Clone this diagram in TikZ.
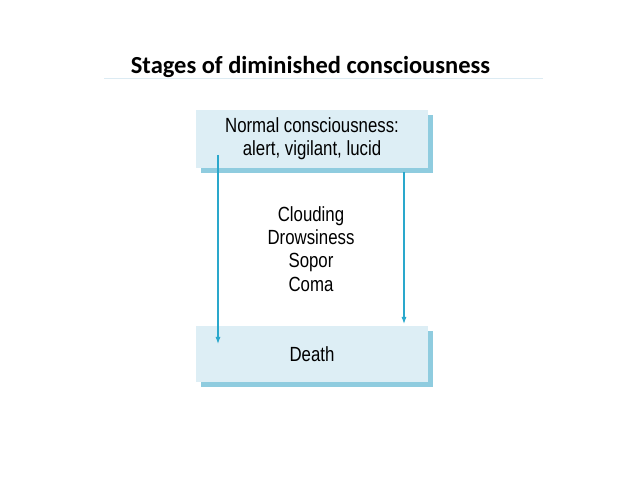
\documentclass[tikz,border=0pt]{standalone}
\usepackage{fontspec}
\setmainfont{Liberation Sans}
\newfontfamily\narrowfont[FakeStretch=0.82]{Liberation Sans}
\newfontfamily\titlefont{Carlito}
\usetikzlibrary{arrows.meta}
\definecolor{boxfill}{HTML}{DDEEF5}
\definecolor{boxshadow}{HTML}{8FCCDF}
\definecolor{arrowcol}{HTML}{2AA8CC}
\definecolor{rulecol}{HTML}{DCEBF3}
\tikzset{
  stagebox/.style={fill=boxfill, draw=none, minimum width=232pt, inner sep=0pt, align=center,
     font=\narrowfont\fontsize{20.5}{23}\selectfont},
  flowarrow/.style={draw=arrowcol, line width=1.1pt, -{Latex[length=7pt,width=5pt]}},
  plaintext/.style={align=center, font=\narrowfont\fontsize{20.5}{23.3}\selectfont}
}
\begin{document}
\begin{tikzpicture}[x=1pt,y=-1pt]
\useasboundingbox (0,0) rectangle (638,478);
% title
\node[font=\titlefont\bfseries\fontsize{24.5}{28}\selectfont] (title) at (310.5,67) {Stages of diminished consciousness};
\coordinate (ruleL) at (104,78.5);
\coordinate (ruleR) at (543,78.5);
\draw[rulecol, line width=1.5pt] (ruleL) -- (ruleR);
% top box
\fill[boxshadow] (201,115) rectangle (433,173);
\node[stagebox, minimum height=58pt] (normal) at (312,139) {Normal consciousness:\\alert, vigilant, lucid};
% bottom box
\fill[boxshadow] (201,331) rectangle (433,387);
\node[stagebox, minimum height=56pt] (death) at (312,354) {Death};
% middle text
\node[plaintext] (stages) at (311,249) {Clouding\\Drowsiness\\Sopor\\Coma};
% arrows
\coordinate (lstart) at (218,155);
\coordinate (lend) at (218,344);
\coordinate (rstart) at (404,172);
\coordinate (rend) at (404,324);
\draw[flowarrow] (lstart) -- (lend);
\draw[flowarrow] (rstart) -- (rend);
\end{tikzpicture}
\end{document}
